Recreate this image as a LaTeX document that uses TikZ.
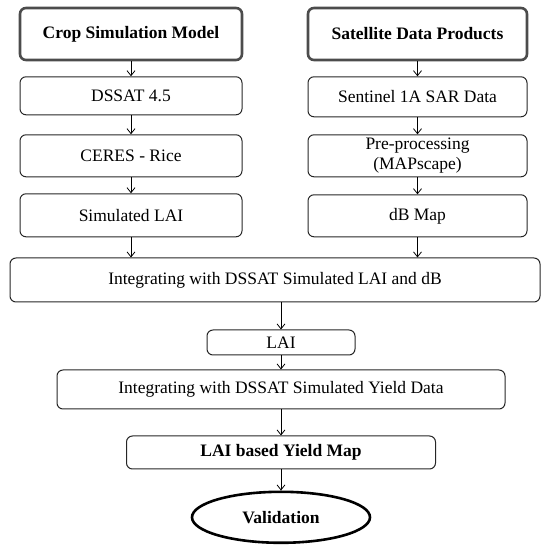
\documentclass[tikz,border=0pt]{standalone}
\usepackage{fontspec}
\setmainfont{Liberation Serif}
\usetikzlibrary{arrows.meta, shapes, positioning}
\tikzset{
	every node/.style={
		font=\fontsize{17.5}{20}\selectfont
	},
	box/.style={
		shape=rectangle,
		draw=black!85,
		line width=1pt,
		rounded corners=6pt,
		align=center,
		inner sep=0pt,
	},
	leftbox/.style={
		box,
		minimum width=222pt,
	},
	rightbox/.style={
		box,
		minimum width=219pt,
	},
	header/.style={
		minimum height=52pt,
		line width=2.6pt,
		draw=black!70,
		font=\fontsize{17.5}{20}\selectfont\bfseries
	},
	outcome/.style={
		shape=ellipse,
		draw=black,
		line width=2.6pt,
		minimum width=178pt,
		minimum height=51pt,
		inner sep=0pt,
		font=\fontsize{17.5}{20}\selectfont\bfseries
	},
	myarrow/.style={-{Straight Barb[length=5pt,width=8pt]}, line width=0.8pt},
}

\begin{document}
\begin{tikzpicture}[x=1pt, y=-1pt]
\useasboundingbox (0,0) rectangle (550,545);

% left column
\node [leftbox, header] (crop) at (131,34) {Crop Simulation Model};
\node [leftbox, minimum height=38pt, below=15pt of crop] (dssat) {DSSAT 4.5};
\node [leftbox, minimum height=42pt, below=19pt of dssat] (ceres) {CERES - Rice};
\node [leftbox, minimum height=43pt, below=16pt of ceres] (simlai) {Simulated LAI};

% right column
\node [rightbox, header] (sat) at (417.5,34) {Satellite Data Products};
\node [rightbox, minimum height=40pt, below=15pt of sat] (sentinel) {Sentinel 1A SAR Data};
\node [rightbox, minimum height=42pt, below=17pt of sentinel] (prep) {Pre-processing\\(MAPscape)};
\node [rightbox, minimum height=42pt, below=17pt of prep] (dbmap) {dB Map};

% merged chain
\node [box, minimum width=530pt, minimum height=44pt] (integ) at (275,280) {Integrating with DSSAT Simulated LAI and dB};
\node [box, minimum width=148pt, minimum height=25pt] (lai) at (281,342.5) {LAI};
\node [box, minimum width=448pt, minimum height=39pt, below=14pt of lai] (yieldint) {Integrating with DSSAT Simulated Yield Data};
\node [box, minimum width=309pt, minimum height=33pt, below=26pt of yieldint] (yieldmap) {\textbf{LAI based Yield Map}};
\node [outcome, below=21pt of yieldmap] (valid) {Validation};

\foreach \a/\b in {crop/dssat, dssat/ceres, ceres/simlai, sat/sentinel, sentinel/prep, prep/dbmap, lai/yieldint, yieldint/yieldmap, yieldmap/valid}
	\draw [myarrow] (\a) -- (\b);
\draw [myarrow] (simlai) -- (simlai |- integ.north);
\draw [myarrow] (dbmap) -- (dbmap |- integ.north);
\draw [myarrow] (lai |- integ.south) -- (lai);

\end{tikzpicture}
\end{document}
